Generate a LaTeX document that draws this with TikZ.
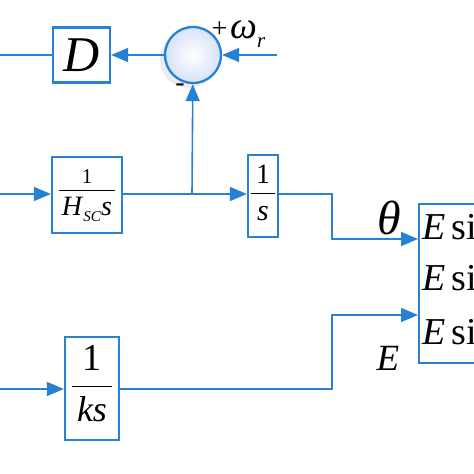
\documentclass[tikz,border=0pt]{standalone}
\usepackage{fontspec}
\setmainfont{Liberation Serif}
\usepackage{tikz}
\usetikzlibrary{arrows.meta, shadows}

\definecolor{lineblue}{RGB}{38,128,212}
\definecolor{ballblue}{RGB}{214,226,246}

\tikzset{
    blk/.style={draw=lineblue, line width=2.3pt, fill=white, inner sep=0pt},
    sig/.style={draw=lineblue, line width=1.6pt},
    arr/.style={sig, -{Triangle[length=17pt, width=14pt]}},
    fsz/.style={font=\fontsize{#1}{#1}\selectfont}
}

\begin{document}
\begin{tikzpicture}[x=1pt, y=-1pt]

    \useasboundingbox (0,0) rectangle (474,474);
    \clip (0,0) rectangle (474,474);

    % blocks
    \node[blk, minimum width=57pt, minimum height=55pt, fsz=50] (damp) at (81.5,55) {\textit{D}};
    \node[circle, draw=lineblue, line width=2.3pt, minimum size=56pt, inner color=white, outer color=ballblue,
          drop shadow={opacity=0.15, shadow xshift=-5pt, shadow yshift=-5pt}] (sum) at (193,55) {};
    \node[blk, minimum width=70pt, minimum height=76pt, fsz=21] (inertia) at (87,195)
        {\begin{tabular}{@{\hspace{3pt}}c@{\hspace{3pt}}}1\\[0pt]\hline\rule{0pt}{25pt}\fontsize{28}{28}\selectfont\textit{H}\raisebox{-6pt}{\fontsize{15}{15}\selectfont\textit{SC}}\textit{s}\end{tabular}};
    \node[blk, minimum width=30pt, minimum height=82pt, fsz=28] (integ) at (263,196)
        {\begin{tabular}{@{\hspace{5pt}}c@{\hspace{5pt}}}1\\[1pt]\hline\rule{0pt}{27pt}\fontsize{30}{30}\selectfont\textit{s}\end{tabular}};
    \node[blk, minimum width=54pt, minimum height=103pt, fsz=38] (excit) at (92,388.5)
        {\begin{tabular}{@{\hspace{5pt}}c@{\hspace{5pt}}}1\\[4pt]\hline\rule{0pt}{35pt}\fontsize{36}{36}\selectfont\textit{ks}\end{tabular}};
    \node[blk, minimum width=120pt, minimum height=159pt, anchor=north west] (trig) at (418,203) {};

    \node[anchor=west, fsz=38, inner sep=0pt] (rowa) at (422,226) {\textit{E}\,sin\,\textit{θ}};
    \node[anchor=west, fsz=38, inner sep=0pt] (rowb) at (422,281) {\textit{E}\,sin(\textit{θ}$-$120°)};
    \node[anchor=west, fsz=38, inner sep=0pt] (rowc) at (422,335) {\textit{E}\,sin(\textit{θ}$+$120°)};

    % labels
    \node[fsz=28, inner sep=0pt] (plus) at (219.5,30) {+};
    \node[fsz=38, anchor=west, inner sep=0pt] (omega) at (230,34) {\textit{ω}\raisebox{-9pt}{\fontsize{21}{21}\selectfont\textit{r}}};
    \node[fsz=28, inner sep=0pt] (minus) at (180,88) {-};
    \node[fsz=48] (theta) at (389,218) {\textit{θ}};
    \node[fsz=37] (emf) at (388,358) {\textit{E}};

    % free ends
    \coordinate (outD) at (0,55);
    \coordinate (inw) at (277,55);
    \coordinate (inP) at (0,194);
    \coordinate (inQ) at (0,389);
    \coordinate (tap) at (192,194);
    \coordinate (ua) at (332,194);
    \coordinate (ub) at (332,239);
    \coordinate (la) at (332,389);
    \coordinate (lb) at (332,315);

    % signals
    \draw[sig] (damp.west) -- (outD);
    \draw[arr] (sum) -- (damp);
    \draw[arr] (inw) -- (sum);
    \draw[arr] (inP) -- (inertia.west |- inP);
    \draw[arr] (inertia.east |- tap) -- (integ.west |- tap);
    \draw[arr] (tap) -- (sum);
    \draw[arr] (integ.east |- ua) -- (ua) -- (ub) -- (trig.west |- ub);
    \draw[arr] (inQ) -- (excit.west |- inQ);
    \draw[arr] (excit.east |- la) -- (la) -- (lb) -- (trig.west |- lb);

\end{tikzpicture}
\end{document}
